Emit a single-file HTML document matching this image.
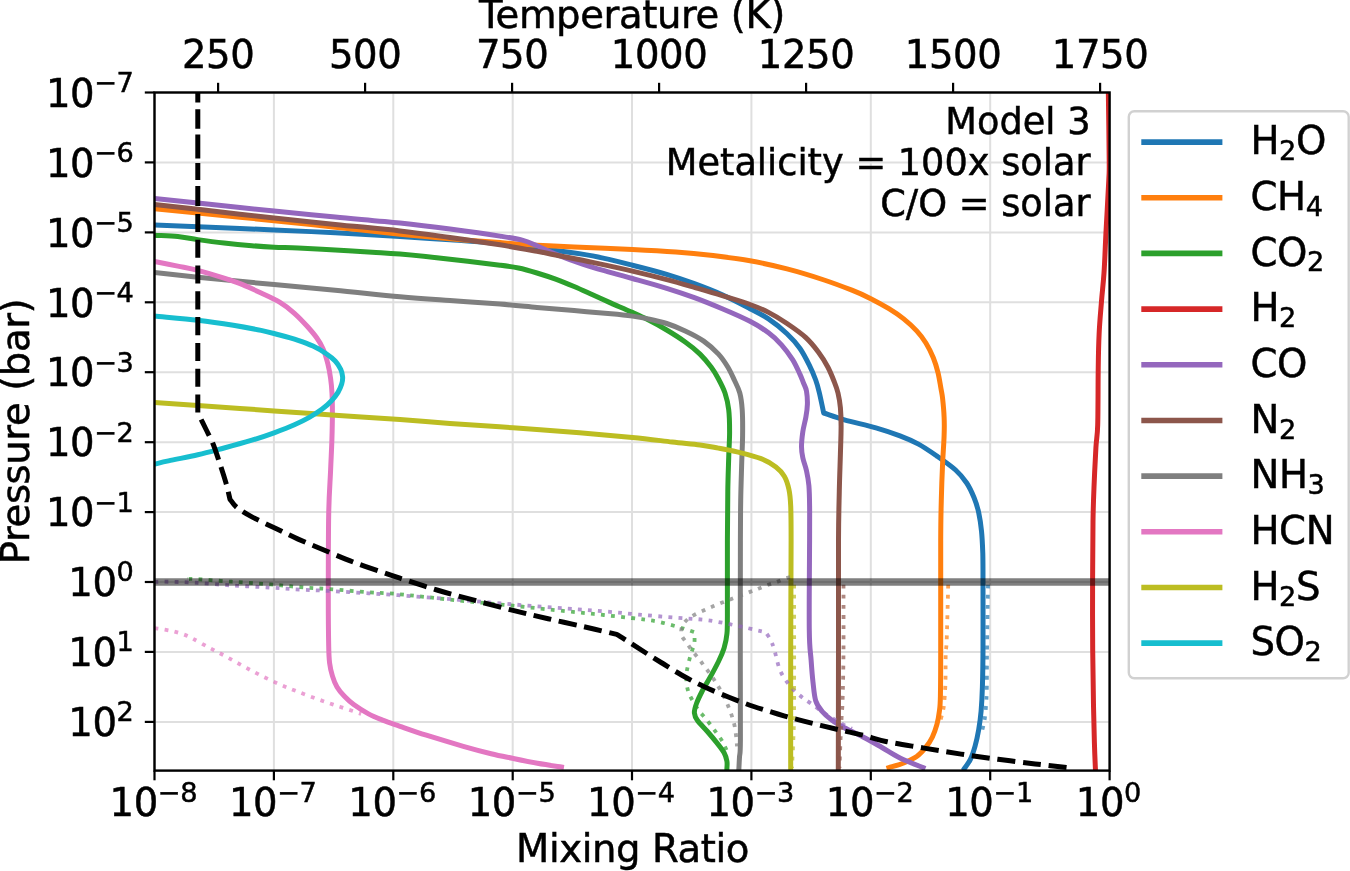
<!DOCTYPE html>
<html lang="en"><head><meta charset="utf-8"><title>Mixing Ratio vs Pressure - Model 3</title>
<style>html,body{margin:0;padding:0;background:#fff;}body{width:1350px;height:871px;overflow:hidden;}svg{display:block;}text{font-family:"DejaVu Sans","Liberation Sans",sans-serif;fill:#000;stroke:#000;stroke-width:0.5px;}</style>
</head><body>
<svg width="1350" height="871" viewBox="0 0 1350 871">
<rect x="0" y="0" width="1350" height="871" fill="#fff"/>
<defs><clipPath id="ax"><rect x="154.5" y="92.5" width="955.1" height="678.1"/></clipPath></defs>
<g stroke="#dfdfdf" stroke-width="2" fill="none">
<line x1="154.5" y1="92.5" x2="154.5" y2="770.6"/>
<line x1="273.9" y1="92.5" x2="273.9" y2="770.6"/>
<line x1="393.3" y1="92.5" x2="393.3" y2="770.6"/>
<line x1="512.7" y1="92.5" x2="512.7" y2="770.6"/>
<line x1="632.0" y1="92.5" x2="632.0" y2="770.6"/>
<line x1="751.4" y1="92.5" x2="751.4" y2="770.6"/>
<line x1="870.8" y1="92.5" x2="870.8" y2="770.6"/>
<line x1="990.2" y1="92.5" x2="990.2" y2="770.6"/>
<line x1="1109.6" y1="92.5" x2="1109.6" y2="770.6"/>
<line x1="154.5" y1="92.5" x2="1109.6" y2="92.5"/>
<line x1="154.5" y1="162.4" x2="1109.6" y2="162.4"/>
<line x1="154.5" y1="232.4" x2="1109.6" y2="232.4"/>
<line x1="154.5" y1="302.3" x2="1109.6" y2="302.3"/>
<line x1="154.5" y1="372.2" x2="1109.6" y2="372.2"/>
<line x1="154.5" y1="442.2" x2="1109.6" y2="442.2"/>
<line x1="154.5" y1="512.1" x2="1109.6" y2="512.1"/>
<line x1="154.5" y1="582.0" x2="1109.6" y2="582.0"/>
<line x1="154.5" y1="651.9" x2="1109.6" y2="651.9"/>
<line x1="154.5" y1="721.9" x2="1109.6" y2="721.9"/>
</g>
<g clip-path="url(#ax)" fill="none" stroke-linejoin="round">
<path d="M150.0,224.8 C150.8,224.8 146.6,224.7 154.6,225.0 C162.6,225.3 177.9,225.9 197.8,226.7 C217.7,227.5 251.2,229.0 274.1,230.0 C297.0,231.0 314.2,231.7 335.2,232.8 C356.2,233.9 380.9,235.3 400.0,236.5 C419.1,237.7 433.3,238.6 450.0,239.8 C466.7,241.0 482.4,242.0 500.0,243.8 C517.6,245.6 540.2,248.4 555.6,250.4 C571.0,252.4 579.8,253.4 592.6,255.9 C605.4,258.4 620.0,262.1 632.4,265.2 C644.8,268.3 656.4,271.3 666.7,274.4 C677.0,277.5 685.1,280.3 694.4,283.7 C703.6,287.1 712.9,290.6 722.2,294.8 C731.5,299.0 742.3,304.7 750.0,308.7 C757.7,312.7 762.3,314.7 768.5,318.9 C774.7,323.1 781.8,328.8 787.0,333.7 C792.2,338.6 796.3,343.2 800.0,348.5 C803.7,353.8 806.7,359.9 809.3,365.2 C811.9,370.4 814.0,375.4 815.7,380.0 C817.4,384.6 818.1,387.5 819.4,393.0 C820.7,398.5 823.0,409.7 823.7,413.0 C827.2,414.1 835.7,417.3 844.4,419.8 C853.1,422.3 866.6,425.1 875.9,427.8 C885.2,430.5 892.9,433.1 900.0,435.8 C907.1,438.5 912.3,440.7 918.5,444.1 C924.7,447.5 930.8,451.8 937.0,456.1 C943.2,460.4 950.6,465.5 955.6,470.0 C960.6,474.5 963.6,478.4 966.7,483.0 C969.8,487.6 972.1,492.9 974.1,497.8 C976.1,502.7 977.5,507.1 978.7,512.6 C979.9,518.1 980.8,524.3 981.5,531.1 C982.2,537.9 982.5,545.3 982.8,553.3 C983.0,561.3 983.0,563.2 983.0,579.3 C983.0,595.4 983.1,632.0 983.0,650.0 C982.9,668.0 982.7,676.8 982.4,687.0 C982.1,697.2 981.7,704.0 981.1,711.1 C980.5,718.2 979.7,723.7 978.7,729.6 C977.7,735.5 976.4,741.3 975.0,746.3 C973.6,751.2 972.2,755.6 970.4,759.3 C968.6,763.0 965.4,767.0 964.4,768.5" stroke="#1f77b4" stroke-width="5.0" stroke-linecap="square"/>
<path d="M150.0,208.2 C150.8,208.3 146.6,207.9 154.6,208.7 C162.6,209.5 177.9,211.0 197.8,213.0 C217.7,215.0 251.2,218.3 274.1,220.7 C297.0,223.1 314.2,224.9 335.2,227.2 C356.2,229.5 380.9,232.4 400.0,234.3 C419.1,236.2 433.3,237.4 450.0,238.8 C466.7,240.2 485.5,241.5 500.0,242.6 C514.5,243.7 524.6,244.5 537.0,245.2 C549.4,245.9 558.2,246.3 574.1,247.0 C590.0,247.7 615.4,248.6 632.4,249.4 C649.4,250.2 662.5,250.9 675.9,251.9 C689.3,252.9 700.6,254.1 713.0,255.6 C725.4,257.1 737.7,258.6 750.0,260.8 C762.3,263.0 774.6,265.7 787.0,268.9 C799.4,272.1 813.3,276.4 824.1,280.0 C834.9,283.6 844.0,287.1 851.9,290.2 C859.8,293.3 865.1,295.8 871.3,298.9 C877.5,302.0 883.5,305.4 888.9,308.7 C894.3,312.0 899.1,315.2 903.7,318.9 C908.3,322.6 913.0,326.9 916.7,330.9 C920.4,334.9 923.1,338.5 925.9,343.0 C928.7,347.5 931.3,352.9 933.3,357.8 C935.3,362.7 936.7,367.4 938.0,372.6 C939.3,377.9 940.3,385.0 941.1,389.3 C941.9,393.6 942.1,393.9 942.6,398.5 C943.1,403.1 943.9,410.8 944.1,417.0 C944.4,423.2 944.4,427.9 944.1,435.6 C943.9,443.3 943.1,452.5 942.6,463.3 C942.1,474.1 941.6,487.6 941.3,500.4 C941.0,513.2 940.8,515.3 940.7,540.2 C940.6,565.1 940.8,624.0 940.7,650.0 C940.7,676.0 940.6,686.1 940.4,696.3 C940.2,706.5 940.0,706.5 939.4,711.1 C938.8,715.7 938.2,719.8 937.0,724.1 C935.8,728.4 934.2,733.1 932.4,737.0 C930.5,740.9 928.5,744.0 925.9,747.2 C923.3,750.5 920.4,753.9 916.7,756.5 C913.0,759.1 908.3,761.1 903.7,763.0 C899.1,764.9 891.4,766.8 888.9,767.6" stroke="#ff7f0e" stroke-width="5.0" stroke-linecap="square"/>
<path d="M150.0,234.9 C150.8,234.9 150.0,234.9 154.6,235.2 C159.2,235.5 170.6,235.8 177.8,236.5 C185.0,237.2 190.1,238.5 197.8,239.6 C205.5,240.7 215.1,242.0 224.1,243.0 C233.1,244.0 243.6,245.0 251.9,245.7 C260.2,246.4 266.4,246.8 274.1,247.2 C281.8,247.6 287.9,247.6 298.1,248.1 C308.3,248.6 322.9,249.3 335.2,250.0 C347.5,250.7 361.4,251.5 372.2,252.2 C383.0,252.9 387.0,252.9 400.0,254.1 C413.0,255.3 433.3,257.4 450.0,259.3 C466.7,261.2 488.6,263.8 500.0,265.2 C511.4,266.6 512.3,266.7 518.5,268.0 C524.7,269.3 530.8,271.1 537.0,273.0 C543.2,274.9 549.4,276.9 555.6,279.1 C561.8,281.4 567.9,283.9 574.1,286.5 C580.3,289.1 586.4,292.0 592.6,294.8 C598.8,297.6 604.5,300.2 611.1,303.1 C617.7,306.0 626.2,309.6 632.4,312.4 C638.6,315.2 642.4,316.9 648.1,319.8 C653.8,322.7 660.5,326.3 666.7,330.0 C672.9,333.7 679.7,338.0 685.2,342.0 C690.8,346.0 695.7,349.9 700.0,354.1 C704.3,358.3 708.0,362.9 711.1,367.0 C714.2,371.1 716.2,374.7 718.5,379.0 C720.8,383.3 723.3,387.9 725.0,393.0 C726.7,398.1 727.9,403.1 728.7,409.6 C729.5,416.1 729.6,423.9 729.6,431.9 C729.6,439.9 729.0,447.9 728.7,457.8 C728.4,467.7 728.0,477.4 727.8,491.1 C727.6,504.8 727.5,519.5 727.4,540.2 C727.3,561.0 727.5,600.0 727.4,615.6 C727.3,631.2 727.4,628.7 726.9,634.1 C726.4,639.5 725.5,643.4 724.1,648.0 C722.7,652.6 720.9,656.6 718.5,661.5 C716.1,666.4 712.8,672.5 710.0,677.5 C707.2,682.5 704.2,687.2 702.0,691.5 C699.8,695.8 697.8,699.9 696.5,703.5 C695.2,707.1 694.2,710.2 694.4,713.0 C694.6,715.8 695.3,717.4 697.5,720.5 C699.7,723.6 704.2,727.8 707.4,731.5 C710.6,735.2 713.9,739.1 716.7,742.6 C719.5,746.1 722.4,749.7 724.1,752.8 C725.8,755.9 726.4,758.5 726.9,761.1 C727.4,763.7 726.9,767.3 726.9,768.5" stroke="#2ca02c" stroke-width="5.0" stroke-linecap="square"/>
<path d="M1108.3,90.0 C1108.5,101.7 1109.1,145.0 1109.2,160.0 C1109.3,175.0 1109.3,168.0 1108.8,180.0 C1108.3,192.0 1106.8,216.5 1106.0,232.0 C1105.2,247.5 1104.8,261.5 1104.0,273.0 C1103.2,284.5 1102.3,291.0 1101.5,301.2 C1100.7,311.4 1099.6,322.7 1099.1,334.3 C1098.5,345.9 1098.4,355.9 1098.2,371.0 C1098.0,386.1 1098.1,412.2 1097.7,425.0 C1097.3,437.8 1096.5,437.8 1095.9,447.8 C1095.3,457.8 1094.6,472.5 1094.1,484.8 C1093.6,497.1 1093.2,506.1 1093.0,521.9 C1092.8,537.6 1092.6,557.9 1092.6,579.3 C1092.5,600.6 1092.5,629.0 1092.7,650.0 C1092.9,671.0 1093.2,690.2 1093.5,705.6 C1093.8,721.0 1094.1,732.1 1094.4,742.6 C1094.7,753.1 1095.2,764.2 1095.4,768.5" stroke="#d62728" stroke-width="5.0" stroke-linecap="square"/>
<path d="M150.0,198.0 C150.8,198.1 146.6,197.7 154.6,198.5 C162.6,199.3 177.9,201.0 197.8,203.1 C217.7,205.2 251.2,208.8 274.1,211.1 C297.0,213.4 314.2,215.0 335.2,217.0 C356.2,219.0 380.9,221.0 400.0,223.0 C419.1,225.0 433.3,226.8 450.0,229.0 C466.7,231.2 488.0,234.2 500.0,236.1 C512.0,238.0 516.0,238.6 522.2,240.2 C528.4,241.8 531.4,243.4 537.0,245.7 C542.6,248.0 547.9,251.0 555.6,254.1 C563.3,257.2 574.0,261.2 583.3,264.3 C592.5,267.4 602.9,270.2 611.1,272.6 C619.3,275.0 623.1,275.9 632.4,278.5 C641.7,281.1 656.4,285.1 666.7,288.3 C677.0,291.5 685.1,294.2 694.4,297.6 C703.6,301.0 712.9,304.8 722.2,308.7 C731.5,312.6 742.3,317.3 750.0,321.3 C757.7,325.3 763.2,328.9 768.5,332.8 C773.8,336.7 777.5,340.3 781.5,344.8 C785.5,349.3 789.5,354.7 792.6,359.6 C795.7,364.5 798.2,370.5 800.0,374.4 C801.8,378.3 802.4,380.2 803.5,383.0 C804.6,385.8 805.9,387.6 806.5,391.1 C807.1,394.6 807.5,399.8 807.4,404.1 C807.3,408.4 806.7,412.4 805.9,417.0 C805.1,421.6 803.5,426.9 802.8,431.9 C802.1,436.8 801.5,442.4 801.5,446.7 C801.5,451.0 802.0,453.8 802.8,457.8 C803.6,461.8 805.5,466.1 806.5,470.7 C807.5,475.3 808.4,479.7 808.9,485.6 C809.4,491.5 809.5,496.8 809.6,505.9 C809.7,515.0 809.7,519.5 809.6,540.2 C809.5,561.0 809.0,610.4 809.3,630.4 C809.5,650.4 810.5,651.4 811.1,660.0 C811.7,668.6 812.2,675.4 813.0,682.2 C813.8,689.0 814.2,695.8 815.7,700.7 C817.2,705.6 819.5,708.2 822.2,711.5 C824.9,714.8 828.3,717.6 832.0,720.3 C835.7,723.0 839.2,725.0 844.4,727.8 C849.6,730.6 856.8,733.8 863.0,737.0 C869.2,740.2 875.3,743.7 881.5,747.2 C887.7,750.7 893.1,754.6 900.0,758.0 C906.9,761.4 919.2,766.0 923.1,767.6" stroke="#9467bd" stroke-width="5.0" stroke-linecap="square"/>
<path d="M150.0,203.9 C150.8,204.0 146.6,203.5 154.6,204.4 C162.6,205.3 177.9,207.0 197.8,209.3 C217.7,211.6 251.2,215.5 274.1,218.0 C297.0,220.5 314.2,222.2 335.2,224.4 C356.2,226.6 380.9,228.7 400.0,230.9 C419.1,233.1 433.3,235.2 450.0,237.5 C466.7,239.8 485.5,242.5 500.0,244.8 C514.5,247.1 527.7,249.6 537.0,251.3 C546.3,253.0 546.3,253.2 555.6,255.0 C564.9,256.9 579.8,259.7 592.6,262.4 C605.4,265.1 620.0,268.2 632.4,271.1 C644.8,274.0 656.4,276.9 666.7,279.6 C677.0,282.3 685.1,284.7 694.4,287.4 C703.6,290.1 712.9,292.8 722.2,295.7 C731.5,298.6 742.3,301.7 750.0,304.5 C757.7,307.3 762.3,309.2 768.5,312.4 C774.7,315.6 780.8,319.3 787.0,323.5 C793.2,327.7 800.4,332.6 805.6,337.4 C810.9,342.2 814.8,347.3 818.5,352.2 C822.2,357.1 825.2,362.1 827.8,367.0 C830.4,371.9 832.6,377.6 834.3,381.9 C836.0,386.2 837.0,388.7 838.0,393.0 C839.0,397.3 839.9,402.2 840.4,407.8 C840.9,413.4 841.1,418.6 841.1,426.3 C841.1,434.0 840.7,443.3 840.4,454.1 C840.1,464.9 839.6,476.8 839.3,491.1 C839.0,505.5 838.6,515.4 838.5,540.2 C838.4,565.0 838.5,602.0 838.5,640.0 C838.5,678.0 838.3,747.1 838.3,768.5" stroke="#8c564b" stroke-width="5.0" stroke-linecap="square"/>
<path d="M150.0,272.1 C150.8,272.2 146.6,271.8 154.6,272.6 C162.6,273.5 177.9,275.2 197.8,277.2 C217.7,279.2 251.2,282.4 274.1,284.6 C297.0,286.8 314.2,288.2 335.2,290.2 C356.2,292.2 380.9,295.0 400.0,296.7 C419.1,298.4 433.3,299.3 450.0,300.5 C466.7,301.7 485.5,303.0 500.0,304.1 C514.5,305.2 524.6,306.3 537.0,307.4 C549.4,308.5 561.8,309.6 574.1,310.6 C586.5,311.7 601.4,312.8 611.1,313.7 C620.8,314.6 626.2,315.2 632.4,316.1 C638.6,317.0 642.4,317.7 648.1,318.9 C653.8,320.1 660.5,321.5 666.7,323.5 C672.9,325.5 679.0,328.0 685.2,330.9 C691.4,333.8 698.2,337.2 703.7,341.1 C709.2,345.0 714.5,349.8 718.5,354.1 C722.5,358.4 725.2,362.7 727.8,367.0 C730.4,371.3 732.3,375.7 734.3,380.0 C736.3,384.3 738.5,388.1 739.8,393.0 C741.1,397.9 741.7,402.5 742.2,409.6 C742.7,416.7 742.7,426.7 742.6,435.6 C742.5,444.6 742.0,452.5 741.7,463.3 C741.4,474.1 740.9,487.6 740.7,500.4 C740.5,513.2 740.5,515.3 740.4,540.2 C740.3,565.1 740.3,616.7 740.3,650.0 C740.3,683.3 740.5,722.2 740.4,740.0 C740.3,757.8 739.8,752.2 739.5,757.0 C739.2,761.8 739.0,766.6 738.9,768.5" stroke="#7f7f7f" stroke-width="5.0" stroke-linecap="square"/>
<path d="M150.0,260.6 C150.8,260.8 150.0,260.6 154.6,261.5 C159.2,262.4 170.6,264.6 177.8,266.1 C185.0,267.6 190.1,268.4 197.8,270.4 C205.5,272.4 216.6,275.7 224.1,278.1 C231.6,280.5 236.4,282.1 242.6,284.6 C248.8,287.1 254.9,290.1 261.1,293.0 C267.3,295.9 274.1,298.8 279.6,302.2 C285.2,305.6 289.8,309.2 294.4,313.3 C299.0,317.4 303.7,322.4 307.4,326.5 C311.1,330.6 314.1,334.1 316.7,337.8 C319.3,341.5 321.2,344.6 323.1,348.9 C325.0,353.2 326.6,358.8 327.8,363.7 C329.1,368.6 329.9,373.6 330.6,378.5 C331.3,383.4 331.7,387.7 332.0,393.3 C332.3,398.9 332.4,404.2 332.4,411.9 C332.4,419.6 332.2,429.9 331.9,439.6 C331.6,449.3 331.1,457.8 330.6,470.2 C330.1,482.6 329.1,492.5 328.7,514.1 C328.3,535.7 328.3,578.0 328.3,600.0 C328.3,622.0 328.5,635.8 328.7,646.3 C328.9,656.8 329.0,658.1 329.6,663.0 C330.2,667.9 331.2,671.9 332.4,675.9 C333.6,679.9 335.0,683.6 337.0,687.0 C339.0,690.4 341.6,693.4 344.4,696.3 C347.2,699.2 349.7,701.7 353.7,704.6 C357.7,707.5 363.6,711.3 368.5,713.9 C373.4,716.5 378.1,718.3 383.3,720.4 C388.6,722.5 392.8,723.8 400.0,726.3 C407.2,728.8 415.8,731.9 426.3,735.2 C436.9,738.5 452.5,743.2 463.3,746.3 C474.1,749.4 482.9,751.7 491.1,753.7 C499.3,755.7 504.7,756.7 512.4,758.3 C520.1,759.9 529.2,761.8 537.4,763.3 C545.6,764.8 557.5,766.4 561.5,767.0" stroke="#e377c2" stroke-width="5.0" stroke-linecap="square"/>
<path d="M150.0,402.3 C150.8,402.4 146.6,402.1 154.6,402.6 C162.6,403.1 177.9,404.0 197.8,405.4 C217.7,406.8 251.2,409.3 274.1,410.9 C297.0,412.5 314.2,413.8 335.2,415.2 C356.2,416.6 380.9,418.2 400.0,419.6 C419.1,421.0 431.2,422.1 450.0,423.5 C468.8,424.9 491.4,426.2 513.0,427.8 C534.6,429.4 559.7,431.2 579.6,432.8 C599.5,434.4 617.0,435.9 632.4,437.4 C647.8,438.9 660.9,440.7 672.2,442.0 C683.5,443.3 692.3,444.0 700.0,445.0 C707.7,446.0 712.3,447.0 718.5,448.1 C724.7,449.2 729.9,450.1 737.0,451.9 C744.1,453.7 754.6,456.2 761.1,458.7 C767.6,461.2 772.0,464.1 775.9,467.0 C779.8,469.9 782.1,472.6 784.3,476.3 C786.5,480.0 787.8,484.4 788.9,489.3 C790.0,494.2 790.3,497.4 790.7,505.9 C791.1,514.4 791.1,516.2 791.1,540.2 C791.1,564.2 790.8,612.0 790.7,650.0 C790.6,688.0 790.7,748.8 790.7,768.5" stroke="#bcbd22" stroke-width="5.0" stroke-linecap="square"/>
<path d="M150.0,315.7 C150.8,315.8 146.6,315.4 154.6,316.1 C162.6,316.9 184.7,318.7 197.8,320.2 C210.9,321.7 222.8,323.5 233.3,325.2 C243.9,326.9 253.4,328.8 261.1,330.4 C268.8,332.0 273.4,333.4 279.6,335.0 C285.8,336.6 292.5,338.4 298.1,340.3 C303.7,342.2 308.4,343.9 313.0,346.1 C317.6,348.3 322.2,351.0 325.9,353.5 C329.6,356.0 332.7,358.3 335.2,360.9 C337.7,363.5 339.5,366.7 340.7,369.3 C341.9,371.9 342.4,374.2 342.6,376.7 C342.8,379.2 342.5,381.5 341.7,384.1 C340.9,386.7 339.7,389.6 338.0,392.4 C336.3,395.2 334.1,397.9 331.5,400.7 C328.9,403.5 325.9,406.3 322.2,409.1 C318.5,411.9 313.9,414.8 309.3,417.4 C304.7,420.0 300.3,422.2 294.4,424.8 C288.5,427.4 281.2,430.2 274.1,432.8 C267.0,435.4 260.2,437.7 251.9,440.2 C243.6,442.7 233.1,445.6 224.1,448.0 C215.1,450.4 207.1,452.7 197.8,454.8 C188.5,456.9 175.7,459.3 168.5,460.9 C161.3,462.4 157.7,463.4 154.6,464.1 C151.5,464.8 150.8,464.9 150.0,465.1" stroke="#17becf" stroke-width="5.0" stroke-linecap="square"/>
<path d="M988.0,584.8 C987.8,596.1 987.2,634.8 987.0,652.8 C986.8,670.8 987.0,682.3 986.7,692.6 C986.4,702.9 985.7,709.5 985.2,714.8 C984.7,720.0 984.4,720.7 983.7,724.1 C983.0,727.5 981.5,733.2 981.0,735.0" stroke="#1f77b4" stroke-opacity="0.7" stroke-width="3.8" stroke-dasharray="3.8 6.3"/>
<path d="M948.2,584.8 C948.0,594.0 947.1,628.5 946.7,640.0 C946.3,651.5 945.9,646.5 945.7,653.7 C945.5,660.9 945.7,675.0 945.4,683.3 C945.1,691.6 944.6,698.6 944.1,703.7 C943.6,708.8 943.1,710.4 942.2,713.9 C941.4,717.4 939.5,723.1 939.0,725.0" stroke="#ff7f0e" stroke-opacity="0.7" stroke-width="3.8" stroke-dasharray="3.8 6.3"/>
<path d="M189.0,579.2 C189.8,579.2 186.4,578.5 193.5,578.9 C200.6,579.3 218.7,580.8 231.5,581.7 C244.3,582.6 259.0,583.5 270.4,584.4 C281.8,585.3 290.3,586.4 300.0,587.2 C309.7,588.0 317.3,588.3 328.7,589.1 C340.1,589.9 356.9,591.4 368.5,592.2 C380.1,593.0 383.6,592.8 398.1,594.1 C412.6,595.4 436.5,598.3 455.6,600.2 C474.8,602.1 494.5,603.9 513.0,605.7 C531.5,607.6 551.6,609.8 566.7,611.3 C581.8,612.8 591.7,613.7 603.7,615.0 C615.7,616.3 630.0,617.8 638.9,618.9 C647.8,620.0 651.2,620.3 657.4,621.5 C663.6,622.7 671.1,625.0 675.9,626.3 C680.7,627.6 683.0,628.4 686.1,629.4 C689.2,630.4 693.0,631.7 694.4,632.2 C694.4,634.1 694.8,640.0 694.4,643.3 C694.0,646.5 692.6,648.7 691.7,651.7 C690.8,654.7 689.7,658.1 688.9,661.5 C688.1,664.9 687.1,668.7 686.7,672.0 C686.3,675.3 686.3,678.2 686.5,681.3 C686.7,684.4 687.1,687.6 688.0,690.6 C688.9,693.6 690.0,695.9 691.7,699.0 C693.4,702.1 695.8,706.2 698.1,709.5 C700.4,712.8 702.8,715.0 705.6,718.5 C708.4,722.0 711.9,726.6 714.8,730.6 C717.7,734.6 720.8,738.4 723.1,742.6 C725.4,746.8 727.8,753.4 728.7,755.6" stroke="#2ca02c" stroke-opacity="0.7" stroke-width="3.8" stroke-dasharray="3.8 6.3"/>
<path d="M154.6,582.0 C156.2,582.0 157.4,581.6 163.9,581.7 C170.4,581.8 182.2,582.0 193.5,582.6 C204.8,583.2 218.7,584.6 231.5,585.4 C244.3,586.2 259.0,586.9 270.4,587.6 C281.8,588.3 290.3,589.1 300.0,589.6 C309.7,590.1 317.3,590.3 328.7,590.9 C340.1,591.5 356.9,592.6 368.5,593.3 C380.1,594.0 383.6,594.2 398.1,595.2 C412.6,596.2 436.5,598.1 455.6,599.6 C474.8,601.1 494.5,602.9 513.0,604.4 C531.5,605.9 551.6,607.4 566.7,608.5 C581.8,609.6 591.7,610.3 603.7,611.3 C615.7,612.3 626.5,613.5 638.9,614.6 C651.2,615.7 666.4,616.9 677.8,617.8 C689.2,618.7 697.5,618.9 707.4,620.2 C717.3,621.5 729.0,624.1 737.0,625.7 C745.0,627.3 750.8,628.9 755.6,630.0 C760.4,631.1 764.0,631.8 765.7,632.2 C766.5,633.4 769.0,636.8 770.4,639.6 C771.8,642.4 772.7,644.4 774.1,648.9 C775.5,653.4 777.2,661.9 778.7,666.5 C780.2,671.1 781.6,673.7 783.3,676.7 C785.0,679.7 786.9,681.9 788.9,684.4 C790.9,686.9 793.1,689.4 795.4,691.6 C797.7,693.8 800.2,695.8 802.8,697.8 C805.4,699.8 807.1,700.8 811.1,703.6 C815.1,706.4 821.2,711.1 826.5,714.5 C831.8,717.9 838.4,721.7 842.6,724.1 C846.8,726.5 850.4,727.9 851.9,728.7" stroke="#9467bd" stroke-opacity="0.7" stroke-width="3.8" stroke-dasharray="3.8 6.3"/>
<path d="M843.5,584.8 C843.5,595.7 843.6,630.8 843.5,650.0 C843.4,669.2 842.9,689.2 842.6,700.0 C842.3,710.8 842.1,708.3 841.7,715.0 C841.4,721.7 840.9,731.2 840.5,740.0 C840.1,748.8 839.7,763.3 839.5,768.0" stroke="#8c564b" stroke-opacity="0.7" stroke-width="3.8" stroke-dasharray="3.8 6.3"/>
<path d="M790.0,577.0 C789.2,577.2 787.4,577.7 785.2,578.5 C783.0,579.3 779.8,580.8 776.9,581.9 C774.0,583.0 770.7,583.9 767.6,585.0 C764.5,586.1 761.2,587.6 758.3,588.7 C755.4,589.9 754.5,590.2 750.0,591.9 C745.5,593.6 736.1,597.1 731.5,598.9 C726.9,600.7 725.3,601.4 722.2,602.6 C719.1,603.8 715.9,605.1 713.0,606.3 C710.1,607.5 707.5,608.7 704.6,610.0 C701.7,611.3 698.2,612.8 695.4,614.3 C692.6,615.8 690.2,617.0 688.0,618.9 C685.8,620.8 683.5,623.0 682.4,625.7 C681.3,628.4 680.7,632.1 681.5,635.0 C682.3,637.9 685.1,640.6 687.0,643.3 C688.9,646.0 690.6,648.7 692.6,651.3 C694.6,653.9 697.1,656.5 699.1,659.1 C701.1,661.7 702.6,664.0 704.6,666.6 C706.6,669.2 709.0,672.2 711.0,675.0 C713.0,677.8 714.6,680.5 716.3,683.3 C718.0,686.1 719.8,688.9 721.3,691.7 C722.8,694.5 724.3,697.1 725.6,700.0 C726.9,702.9 728.2,706.0 729.3,708.9 C730.4,711.8 731.5,714.6 732.4,717.6 C733.3,720.6 734.2,723.8 734.8,726.9 C735.4,730.0 735.7,732.9 736.1,736.1 C736.5,739.3 736.9,744.6 737.0,746.3" stroke="#7f7f7f" stroke-opacity="0.7" stroke-width="3.8" stroke-dasharray="3.8 6.3"/>
<path d="M154.6,628.1 C156.3,628.4 161.6,629.0 164.8,629.6 C168.1,630.2 171.0,630.7 174.1,631.5 C177.2,632.3 180.2,633.1 183.3,634.3 C186.4,635.5 188.3,636.2 192.6,638.5 C196.9,640.8 203.8,644.8 209.3,647.8 C214.9,650.8 220.2,653.4 225.9,656.5 C231.6,659.6 237.6,663.1 243.5,666.3 C249.4,669.5 255.1,672.6 261.1,675.6 C267.1,678.6 273.7,681.7 279.6,684.3 C285.5,686.9 290.4,688.8 296.3,691.1 C302.2,693.4 308.6,695.9 314.8,698.1 C321.0,700.4 327.1,702.5 333.3,704.6 C339.5,706.7 347.3,709.2 351.9,710.7 C356.5,712.2 359.6,713.4 361.1,713.9" stroke="#e377c2" stroke-opacity="0.7" stroke-width="3.8" stroke-dasharray="3.8 6.3"/>
<path d="M794.1,584.8 C794.1,604.0 794.2,675.0 794.1,700.0 C794.0,725.0 793.9,723.7 793.5,735.0 C793.1,746.3 792.2,762.5 792.0,768.0" stroke="#bcbd22" stroke-opacity="0.7" stroke-width="3.8" stroke-dasharray="3.8 6.3"/>
<path d="M197.8,92.5V102.5M197.8,109.3V128.7M197.8,134.6V158.5M197.8,163V180.1M197.8,186V205.9" stroke="#000" stroke-width="5"/>
<path d="M197.8,213.9 L197.8,412.8 C199.1,415.4 203.1,423.4 205.6,428.5 C208.1,433.6 210.7,438.1 213.0,443.7 C215.3,449.3 217.2,455.7 219.4,462.2 C221.6,468.7 224.1,476.4 225.9,482.6 C227.7,488.8 229.3,496.5 230.0,499.3 C231.2,500.7 233.3,504.7 237.0,507.6 C240.7,510.5 245.4,513.4 251.9,516.9 C258.4,520.4 268.2,524.8 275.9,528.5 C283.6,532.2 289.3,535.2 298.1,539.1 C306.9,543.0 319.4,548.1 328.7,552.0 C338.0,555.9 344.9,558.9 353.7,562.2 C362.5,565.5 373.8,569.2 381.5,571.9 C389.2,574.6 390.8,575.2 400.0,578.2 C409.2,581.2 424.6,586.3 437.0,590.0 C449.4,593.7 461.4,596.8 474.1,600.2 C486.8,603.6 500.7,607.3 513.0,610.4 C525.3,613.5 536.1,615.9 548.1,618.7 C560.1,621.5 573.8,624.4 585.2,627.0 C596.6,629.6 611.5,633.2 616.7,634.4 C618.9,635.7 625.0,639.5 629.6,642.4 C634.2,645.3 639.1,648.6 644.4,652.0 C649.6,655.4 654.9,658.7 661.1,662.5 C667.3,666.3 674.4,671.0 681.5,675.0 C688.6,679.0 695.7,682.8 703.7,686.5 C711.7,690.2 721.3,694.2 729.6,697.5 C737.9,700.8 745.7,703.8 753.7,706.5 C761.7,709.2 769.5,711.5 777.8,714.0 C786.1,716.5 793.6,718.6 803.7,721.2 C813.8,723.8 828.4,727.3 838.3,729.6 C848.2,731.9 854.9,733.2 863.0,735.2 C871.1,737.2 876.8,739.6 887.0,741.7 C897.2,743.9 911.8,746.0 924.1,748.1 C936.5,750.2 948.8,752.2 961.1,754.1 C973.4,756.0 985.8,757.7 998.1,759.3 C1010.5,760.9 1023.8,762.5 1035.2,763.9 C1046.6,765.3 1061.5,767.0 1066.7,767.6" stroke="#000" stroke-width="5" stroke-dasharray="18.1 7.7"/>
<line x1="154.5" y1="582.0" x2="1109.6" y2="582.0" stroke="#000" stroke-opacity="0.5" stroke-width="7.5"/>
</g>
<rect x="154.5" y="92.5" width="955.1" height="678.1" fill="none" stroke="#000" stroke-width="2.4"/>
<g stroke="#000" stroke-width="2.2">
<line x1="154.5" y1="770.6" x2="154.5" y2="780.3"/>
<line x1="273.9" y1="770.6" x2="273.9" y2="780.3"/>
<line x1="393.3" y1="770.6" x2="393.3" y2="780.3"/>
<line x1="512.7" y1="770.6" x2="512.7" y2="780.3"/>
<line x1="632.0" y1="770.6" x2="632.0" y2="780.3"/>
<line x1="751.4" y1="770.6" x2="751.4" y2="780.3"/>
<line x1="870.8" y1="770.6" x2="870.8" y2="780.3"/>
<line x1="990.2" y1="770.6" x2="990.2" y2="780.3"/>
<line x1="1109.6" y1="770.6" x2="1109.6" y2="780.3"/>
<line x1="144.8" y1="92.5" x2="154.5" y2="92.5"/>
<line x1="144.8" y1="162.4" x2="154.5" y2="162.4"/>
<line x1="144.8" y1="232.4" x2="154.5" y2="232.4"/>
<line x1="144.8" y1="302.3" x2="154.5" y2="302.3"/>
<line x1="144.8" y1="372.2" x2="154.5" y2="372.2"/>
<line x1="144.8" y1="442.2" x2="154.5" y2="442.2"/>
<line x1="144.8" y1="512.1" x2="154.5" y2="512.1"/>
<line x1="144.8" y1="582.0" x2="154.5" y2="582.0"/>
<line x1="144.8" y1="651.9" x2="154.5" y2="651.9"/>
<line x1="144.8" y1="721.9" x2="154.5" y2="721.9"/>
<line x1="218.1" y1="82.8" x2="218.1" y2="92.5"/>
<line x1="365.1" y1="82.8" x2="365.1" y2="92.5"/>
<line x1="512.1" y1="82.8" x2="512.1" y2="92.5"/>
<line x1="659.1" y1="82.8" x2="659.1" y2="92.5"/>
<line x1="806.1" y1="82.8" x2="806.1" y2="92.5"/>
<line x1="953.1" y1="82.8" x2="953.1" y2="92.5"/>
<line x1="1100.1" y1="82.8" x2="1100.1" y2="92.5"/>
</g>
<g font-size="38.6" letter-spacing="-0.4">
<text x="153.3" y="816.4" text-anchor="middle">10<tspan dy="-14.5" font-size="27.2">−8</tspan></text>
<text x="272.7" y="816.4" text-anchor="middle">10<tspan dy="-14.5" font-size="27.2">−7</tspan></text>
<text x="392.1" y="816.4" text-anchor="middle">10<tspan dy="-14.5" font-size="27.2">−6</tspan></text>
<text x="511.5" y="816.4" text-anchor="middle">10<tspan dy="-14.5" font-size="27.2">−5</tspan></text>
<text x="630.8" y="816.4" text-anchor="middle">10<tspan dy="-14.5" font-size="27.2">−4</tspan></text>
<text x="750.2" y="816.4" text-anchor="middle">10<tspan dy="-14.5" font-size="27.2">−3</tspan></text>
<text x="869.6" y="816.4" text-anchor="middle">10<tspan dy="-14.5" font-size="27.2">−2</tspan></text>
<text x="989.0" y="816.4" text-anchor="middle">10<tspan dy="-14.5" font-size="27.2">−1</tspan></text>
<text x="1108.4" y="816.4" text-anchor="middle">10<tspan dy="-14.5" font-size="27.2">0</tspan></text>
<text x="133.5" y="106.7" text-anchor="end">10<tspan dy="-14.8" font-size="27.2">−7</tspan></text>
<text x="133.5" y="176.6" text-anchor="end">10<tspan dy="-14.8" font-size="27.2">−6</tspan></text>
<text x="133.5" y="246.6" text-anchor="end">10<tspan dy="-14.8" font-size="27.2">−5</tspan></text>
<text x="133.5" y="316.5" text-anchor="end">10<tspan dy="-14.8" font-size="27.2">−4</tspan></text>
<text x="133.5" y="386.4" text-anchor="end">10<tspan dy="-14.8" font-size="27.2">−3</tspan></text>
<text x="133.5" y="456.4" text-anchor="end">10<tspan dy="-14.8" font-size="27.2">−2</tspan></text>
<text x="133.5" y="526.3" text-anchor="end">10<tspan dy="-14.8" font-size="27.2">−1</tspan></text>
<text x="133.5" y="596.2" text-anchor="end">10<tspan dy="-14.8" font-size="27.2">0</tspan></text>
<text x="133.5" y="666.1" text-anchor="end">10<tspan dy="-14.8" font-size="27.2">1</tspan></text>
<text x="133.5" y="736.1" text-anchor="end">10<tspan dy="-14.8" font-size="27.2">2</tspan></text>
<text x="218.1" y="67.8" text-anchor="middle">250</text>
<text x="365.1" y="67.8" text-anchor="middle">500</text>
<text x="512.1" y="67.8" text-anchor="middle">750</text>
<text x="659.1" y="67.8" text-anchor="middle">1000</text>
<text x="806.1" y="67.8" text-anchor="middle">1250</text>
<text x="953.1" y="67.8" text-anchor="middle">1500</text>
<text x="1100.1" y="67.8" text-anchor="middle">1750</text>
<text x="632" y="28" text-anchor="middle">Temperature (K)</text>
<text x="632.5" y="862" text-anchor="middle">Mixing Ratio</text>
<text transform="translate(29.4,431.5) rotate(-90)" text-anchor="middle">Pressure (bar)</text>
</g>
<g font-size="36.7" text-anchor="end">
<text x="1090.5" y="133.6">Model 3</text>
<text x="1090.5" y="174.6">Metalicity = 100x solar</text>
<text x="1090.5" y="216.1">C/O = solar</text>
</g>
<rect x="1128.8" y="111.3" width="219.9" height="567" rx="5.5" ry="5.5" fill="#fff" fill-opacity="0.8" stroke="#ccc" stroke-opacity="0.9" stroke-width="2.4"/>
<g font-size="38.6" letter-spacing="-0.4">
<line x1="1141.3" y1="142.1" x2="1222.4" y2="142.1" stroke="#1f77b4" stroke-width="5.6"/>
<text x="1250.5" y="154.3">H<tspan dy="5.8" font-size="27.2">2</tspan><tspan dy="-5.8">O</tspan></text>
<line x1="1141.3" y1="197.8" x2="1222.4" y2="197.8" stroke="#ff7f0e" stroke-width="5.6"/>
<text x="1250.5" y="210.0">CH<tspan dy="5.8" font-size="27.2">4</tspan></text>
<line x1="1141.3" y1="253.4" x2="1222.4" y2="253.4" stroke="#2ca02c" stroke-width="5.6"/>
<text x="1250.5" y="265.6">CO<tspan dy="5.8" font-size="27.2">2</tspan></text>
<line x1="1141.3" y1="309.1" x2="1222.4" y2="309.1" stroke="#d62728" stroke-width="5.6"/>
<text x="1250.5" y="321.3">H<tspan dy="5.8" font-size="27.2">2</tspan></text>
<line x1="1141.3" y1="364.8" x2="1222.4" y2="364.8" stroke="#9467bd" stroke-width="5.6"/>
<text x="1250.5" y="377.0">CO</text>
<line x1="1141.3" y1="420.5" x2="1222.4" y2="420.5" stroke="#8c564b" stroke-width="5.6"/>
<text x="1250.5" y="432.7">N<tspan dy="5.8" font-size="27.2">2</tspan></text>
<line x1="1141.3" y1="476.1" x2="1222.4" y2="476.1" stroke="#7f7f7f" stroke-width="5.6"/>
<text x="1250.5" y="488.3">NH<tspan dy="5.8" font-size="27.2">3</tspan></text>
<line x1="1141.3" y1="531.8" x2="1222.4" y2="531.8" stroke="#e377c2" stroke-width="5.6"/>
<text x="1250.5" y="544.0">HCN</text>
<line x1="1141.3" y1="587.5" x2="1222.4" y2="587.5" stroke="#bcbd22" stroke-width="5.6"/>
<text x="1250.5" y="599.7">H<tspan dy="5.8" font-size="27.2">2</tspan><tspan dy="-5.8">S</tspan></text>
<line x1="1141.3" y1="643.1" x2="1222.4" y2="643.1" stroke="#17becf" stroke-width="5.6"/>
<text x="1250.5" y="655.3">SO<tspan dy="5.8" font-size="27.2">2</tspan></text>
</g>
</svg>
</body></html>
